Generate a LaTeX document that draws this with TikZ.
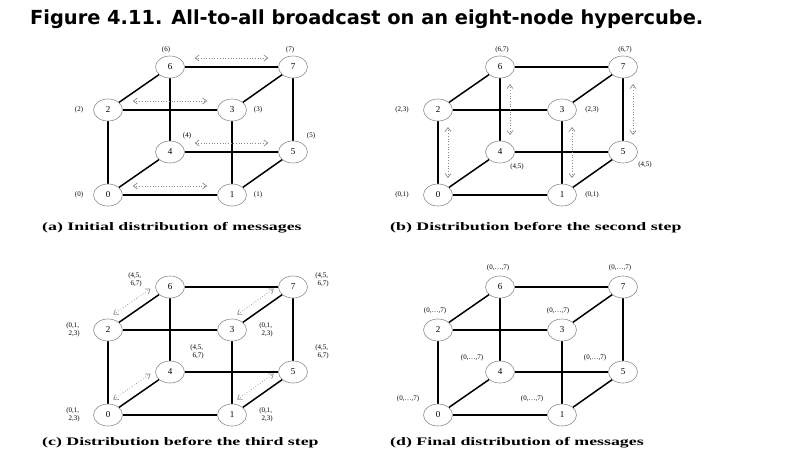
\documentclass[tikz,border=0pt]{standalone}
\usepackage{fontspec}
\setmainfont{Liberation Serif}
\newfontfamily\titlefont{DejaVu Sans}
\usetikzlibrary{arrows.meta,calc,shapes.geometric}
\tikzset{
 vtx/.style={draw=black!45,fill=white,ellipse,minimum width=29pt,minimum height=22pt,inner sep=0pt,font=\fontsize{9}{10}\selectfont,line width=0.6pt},
 edge/.style={line width=1.5pt},
 msg/.style={draw=black!45,dotted,line width=0.7pt,{Straight Barb[length=4pt,width=6pt]}-{Straight Barb[length=4pt,width=6pt]}},
 lab/.style={font=\fontsize{7}{8}\selectfont,inner sep=0pt,align=center},
 captxt/.style={anchor=west,inner sep=0pt}
}
\newcommand\capt[1]{\scalebox{1.55}[1]{\fontsize{11.5}{13}\selectfont\bfseries #1}}
\pgfdeclarelayer{bg}
\pgfsetlayers{bg,main}
\newcommand\mycube[3]{%
\begin{scope}[shift={(#2,#3)}]
 \node[vtx] (#10) at (108,195) {0};
 \node[vtx] (#11) at (232,195) {1};
 \node[vtx] (#12) at (108,110) {2};
 \node[vtx] (#13) at (232,110) {3};
 \node[vtx] (#14) at (170,152) {4};
 \node[vtx] (#15) at (293,152) {5};
 \node[vtx] (#16) at (170,67) {6};
 \node[vtx] (#17) at (293,67) {7};
\end{scope}
\begin{pgfonlayer}{bg}
 \foreach \u/\v in {0/1,0/2,0/4,1/3,1/5,2/3,2/6,3/7,4/5,4/6,5/7,6/7}
   \draw[edge] (#1\u) -- (#1\v);
\end{pgfonlayer}}
\begin{document}
\begin{tikzpicture}[x=1pt,y=-1pt]
\useasboundingbox (0,0) rectangle (785,475);
\node[anchor=west,inner sep=0pt] (title) at (30,19) {\resizebox{673pt}{!}{\titlefont\fontsize{14}{16}\selectfont\bfseries Figure 4.11. All-to-all broadcast on an eight-node hypercube.}};
\mycube{a}{0}{0}
\mycube{b}{330}{0}
\mycube{c}{0}{220}
\mycube{d}{330}{220}
% (a)
\foreach \n/\x/\y in {6/166/50,7/290/50,2/79/110,3/258/110,4/187/136,5/311/136,0/79/195,1/258/195}
  \node[lab] (la\n) at (\x,\y) {(\n)};
\foreach \u/\v in {0/1,2/3,4/5,6/7}
  \draw[msg] ($(a\u)!0.2!(a\v)+(0,-9)$) -- ($(a\u)!0.8!(a\v)+(0,-9)$);
% (b)
\foreach \n/\t/\x/\y in {6/{6,7}/502/50,7/{6,7}/625/50,2/{2,3}/402/110,3/{2,3}/592/110,4/{4,5}/517/167,5/{4,5}/645/165,0/{0,1}/402/195,1/{0,1}/592/195}
  \node[lab] (lb\n) at (\x,\y) {(\t)};
\foreach \u/\v in {0/2,1/3,4/6,5/7}
  \draw[msg] ($(b\u)!0.2!(b\v)+(10,0)$) -- ($(b\u)!0.8!(b\v)+(10,0)$);
% (c)
\foreach \n/\t/\x/\y in {6/{(4,5,\\\hphantom{(}6,7)}/135/280,7/{(4,5,\\\hphantom{(}6,7)}/322/280,2/{(0,1,\\\hphantom{(}2,3)}/73/330,3/{(0,1,\\\hphantom{(}2,3)}/266/330,4/{(4,5,\\\hphantom{(}6,7)}/197/352,5/{(4,5,\\\hphantom{(}6,7)}/322/352,0/{(0,1,\\\hphantom{(}2,3)}/73/415,1/{(0,1,\\\hphantom{(}2,3)}/266/415}
  \node[lab,align=left] (lc\n) at (\x,\y) {\t};
\foreach \u/\v in {0/4,2/6,1/5,3/7}
  \draw[msg] ($(c\u)!0.15!(c\v)+(-4,-9)$) -- ($(c\u)!0.75!(c\v)+(-4,-9)$);
% (d)
\foreach \n/\x/\y in {6/498/268,7/620/268,2/435/311,3/558/311,4/472/358,5/595/358,0/408/399,1/532/399}
  \node[lab] (ld\n) at (\x,\y) {(0,\dots,7)};
% captions
\node[captxt] (ca) at (42,228) {\capt{(a) Initial distribution of messages}};
\node[captxt] (cb) at (390,228) {\capt{(b) Distribution before the second step}};
\node[captxt] (cc) at (42,443) {\capt{(c) Distribution before the third step}};
\node[captxt] (cd) at (390,443) {\capt{(d) Final distribution of messages}};
\end{tikzpicture}
\end{document}
